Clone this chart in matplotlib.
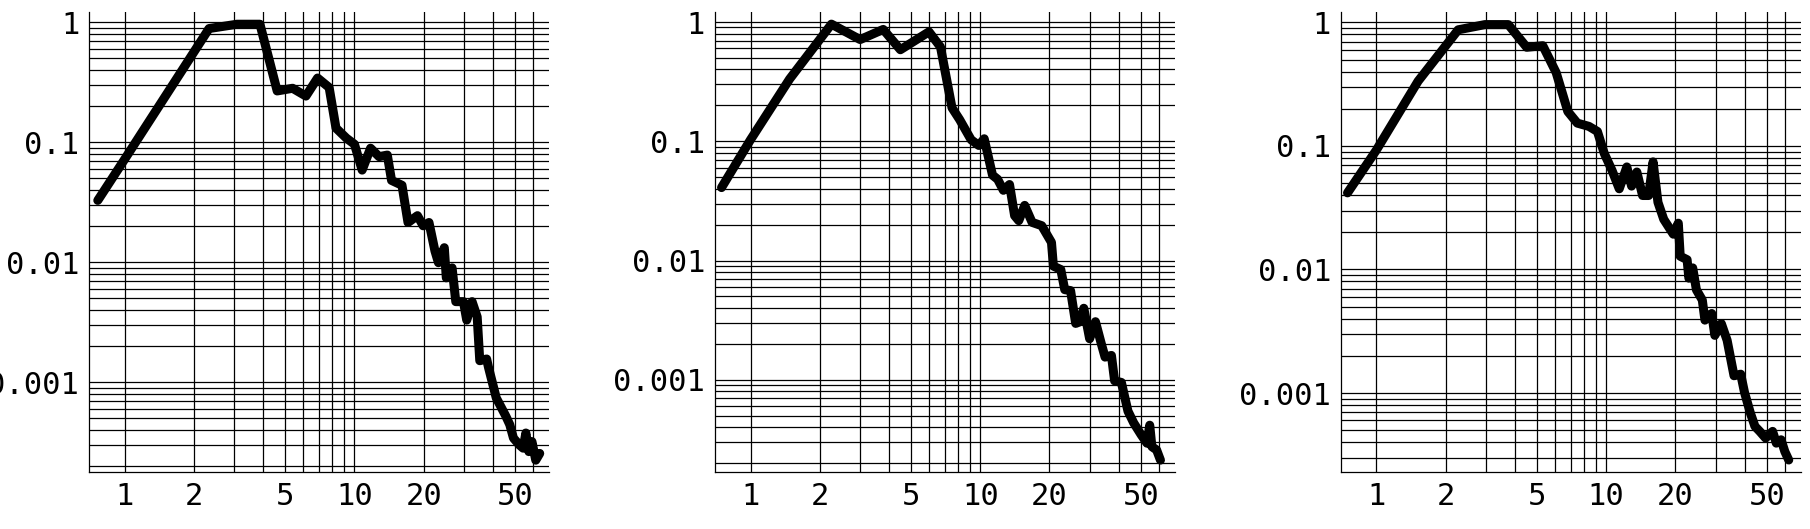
import matplotlib
matplotlib.use("Agg")
import matplotlib.pyplot as plt
from matplotlib.ticker import FixedLocator, FixedFormatter, NullFormatter

# three spectra (x, y)
x1 = [0.764, 1.0, 2.33, 3.08, 3.88, 4.61, 5.38, 6.15, 6.91, 7.76, 8.31, 9.22, 10.0,
      10.8, 11.75, 12.8, 13.9, 14.5, 16.1, 17.1, 18.8, 19.9, 21.1, 22.4, 23.2, 24.6,
      25.1, 26.6, 27.6, 29.8, 30.8, 32.5, 34.2, 35.1, 37.6, 38.3, 41.4, 45.6, 47.4,
      49.2, 52.2, 54.2, 55.7, 57.4, 59.2, 61.5, 64.0]
y1 = [0.0327, 0.072, 0.884, 0.96, 0.96, 0.267, 0.281, 0.242, 0.342, 0.285, 0.131, 0.108,
      0.096, 0.0585, 0.089, 0.0757, 0.078, 0.048, 0.0437, 0.0214, 0.0244, 0.0201, 0.0214,
      0.0124, 0.0099, 0.0132, 0.0074, 0.00896, 0.00469, 0.00469, 0.00329, 0.00469, 0.0035,
      0.00151, 0.00156, 0.00133, 0.00074, 0.00052, 0.000443, 0.000342, 0.00030, 0.000282,
      0.000377, 0.000264, 0.00032, 0.000224, 0.000255]

x2 = [0.748, 1.0, 1.48, 2.25, 3.0, 3.78, 4.49, 5.98, 6.71, 7.53, 8.13, 9.12, 9.85, 10.4,
      11.3, 11.9, 12.6, 13.4, 14.1, 14.7, 15.6, 16.8, 18.5, 20.4, 20.8, 22.4, 23.3, 24.7,
      26.0, 27.2, 28.2, 29.9, 31.7, 33.6, 34.9, 37.2, 38.4, 41.1, 43.9, 46.5, 50.1, 53.1,
      54.6, 55.8, 58.5, 60.8]
y2 = [0.0409, 0.103, 0.333, 0.96, 0.713, 0.867, 0.586, 0.828, 0.618, 0.191, 0.152, 0.103,
      0.0923, 0.105, 0.052, 0.048, 0.0388, 0.0434, 0.0238, 0.0216, 0.029, 0.0209, 0.0196,
      0.0142, 0.00898, 0.0084, 0.0057, 0.0056, 0.00297, 0.00307, 0.00398, 0.00221, 0.00307,
      0.00201, 0.00155, 0.0016, 0.00098, 0.00095, 0.000546, 0.000435, 0.000346, 0.000294,
      0.000416, 0.000275, 0.000258, 0.000212]

x3 = [0.749, 1.0, 1.52, 2.27, 2.97, 3.75, 4.51, 5.30, 6.06, 6.81, 7.49, 8.41, 9.16, 9.81,
      10.6, 11.4, 12.3, 12.9, 13.6, 14.4, 15.3, 16.0, 16.8, 17.8, 19.6, 20.6, 21.0, 22.5,
      22.9, 23.8, 24.7, 26.2, 26.9, 28.8, 29.7, 31.7, 33.6, 36.0, 38.5, 40.0, 42.4, 44.4,
      46.6, 49.4, 53.0, 55.0, 57.7, 59.9, 62.3]
y3 = [0.0417, 0.0925, 0.335, 0.871, 0.96, 0.96, 0.629, 0.648, 0.392, 0.19, 0.153, 0.144,
      0.131, 0.087, 0.0635, 0.045, 0.0676, 0.0473, 0.0615, 0.0397, 0.0397, 0.0743, 0.035,
      0.0255, 0.0193, 0.0237, 0.0128, 0.012, 0.0085, 0.0103, 0.00684, 0.00566, 0.00389,
      0.0044, 0.00293, 0.00365, 0.00267, 0.00138, 0.00142, 0.00101, 0.00069, 0.000537,
      0.000489, 0.000432, 0.000489, 0.000393, 0.000418, 0.000336, 0.000287]

series = [(x1, y1), (x2, y2), (x3, y3)]
y_bottoms = [1.79e-4, 1.69e-4, 2.3e-4]

x_major = [1, 2, 5, 10, 20, 50]
x_labels = ["1", "2", "5", "10", "20", "50"]
x_minor = [3, 4, 6, 7, 8, 9, 30, 40, 60]
y_major = [1e-4, 1e-3, 1e-2, 1e-1, 1]
y_labels = ["0.0001", "0.001", "0.01", "0.1", "1"]
y_minor = [m * 10.0 ** e for e in range(-5, 1) for m in range(2, 10)]

plt.rcParams["font.family"] = "DejaVu Sans Mono"
plt.rcParams["font.size"] = 22

fig, axes = plt.subplots(1, 3, figsize=(18.1, 5.29), dpi=100)
fig.subplots_adjust(left=0.0492, right=0.995, bottom=0.108, top=0.977, wspace=0.36)

for ax, (xs, ys), yb in zip(axes, series, y_bottoms):
    ax.plot(xs, ys, color="black", lw=6.5, solid_joinstyle="round", solid_capstyle="round", zorder=3)
    ax.set_xscale("log")
    ax.set_yscale("log")
    ax.set_xlim(0.7, 70.4)
    ax.set_ylim(yb, 1.21)

    ax.xaxis.set_major_locator(FixedLocator(x_major))
    ax.xaxis.set_major_formatter(FixedFormatter(x_labels))
    ax.xaxis.set_minor_locator(FixedLocator(x_minor))
    ax.xaxis.set_minor_formatter(NullFormatter())
    ax.yaxis.set_major_locator(FixedLocator(y_major))
    ax.yaxis.set_major_formatter(FixedFormatter(y_labels))
    ax.yaxis.set_minor_locator(FixedLocator(y_minor))
    ax.yaxis.set_minor_formatter(NullFormatter())

    ax.grid(True, which="both", color="black", lw=0.9)
    ax.tick_params(which="both", length=0)
    ax.tick_params(axis="x", pad=7)
    ax.tick_params(axis="y", pad=7)
    for side in ["top", "right"]:
        ax.spines[side].set_visible(False)
    for side in ["left", "bottom"]:
        ax.spines[side].set_linewidth(0.9)

fig.savefig("out.png", dpi=100)
